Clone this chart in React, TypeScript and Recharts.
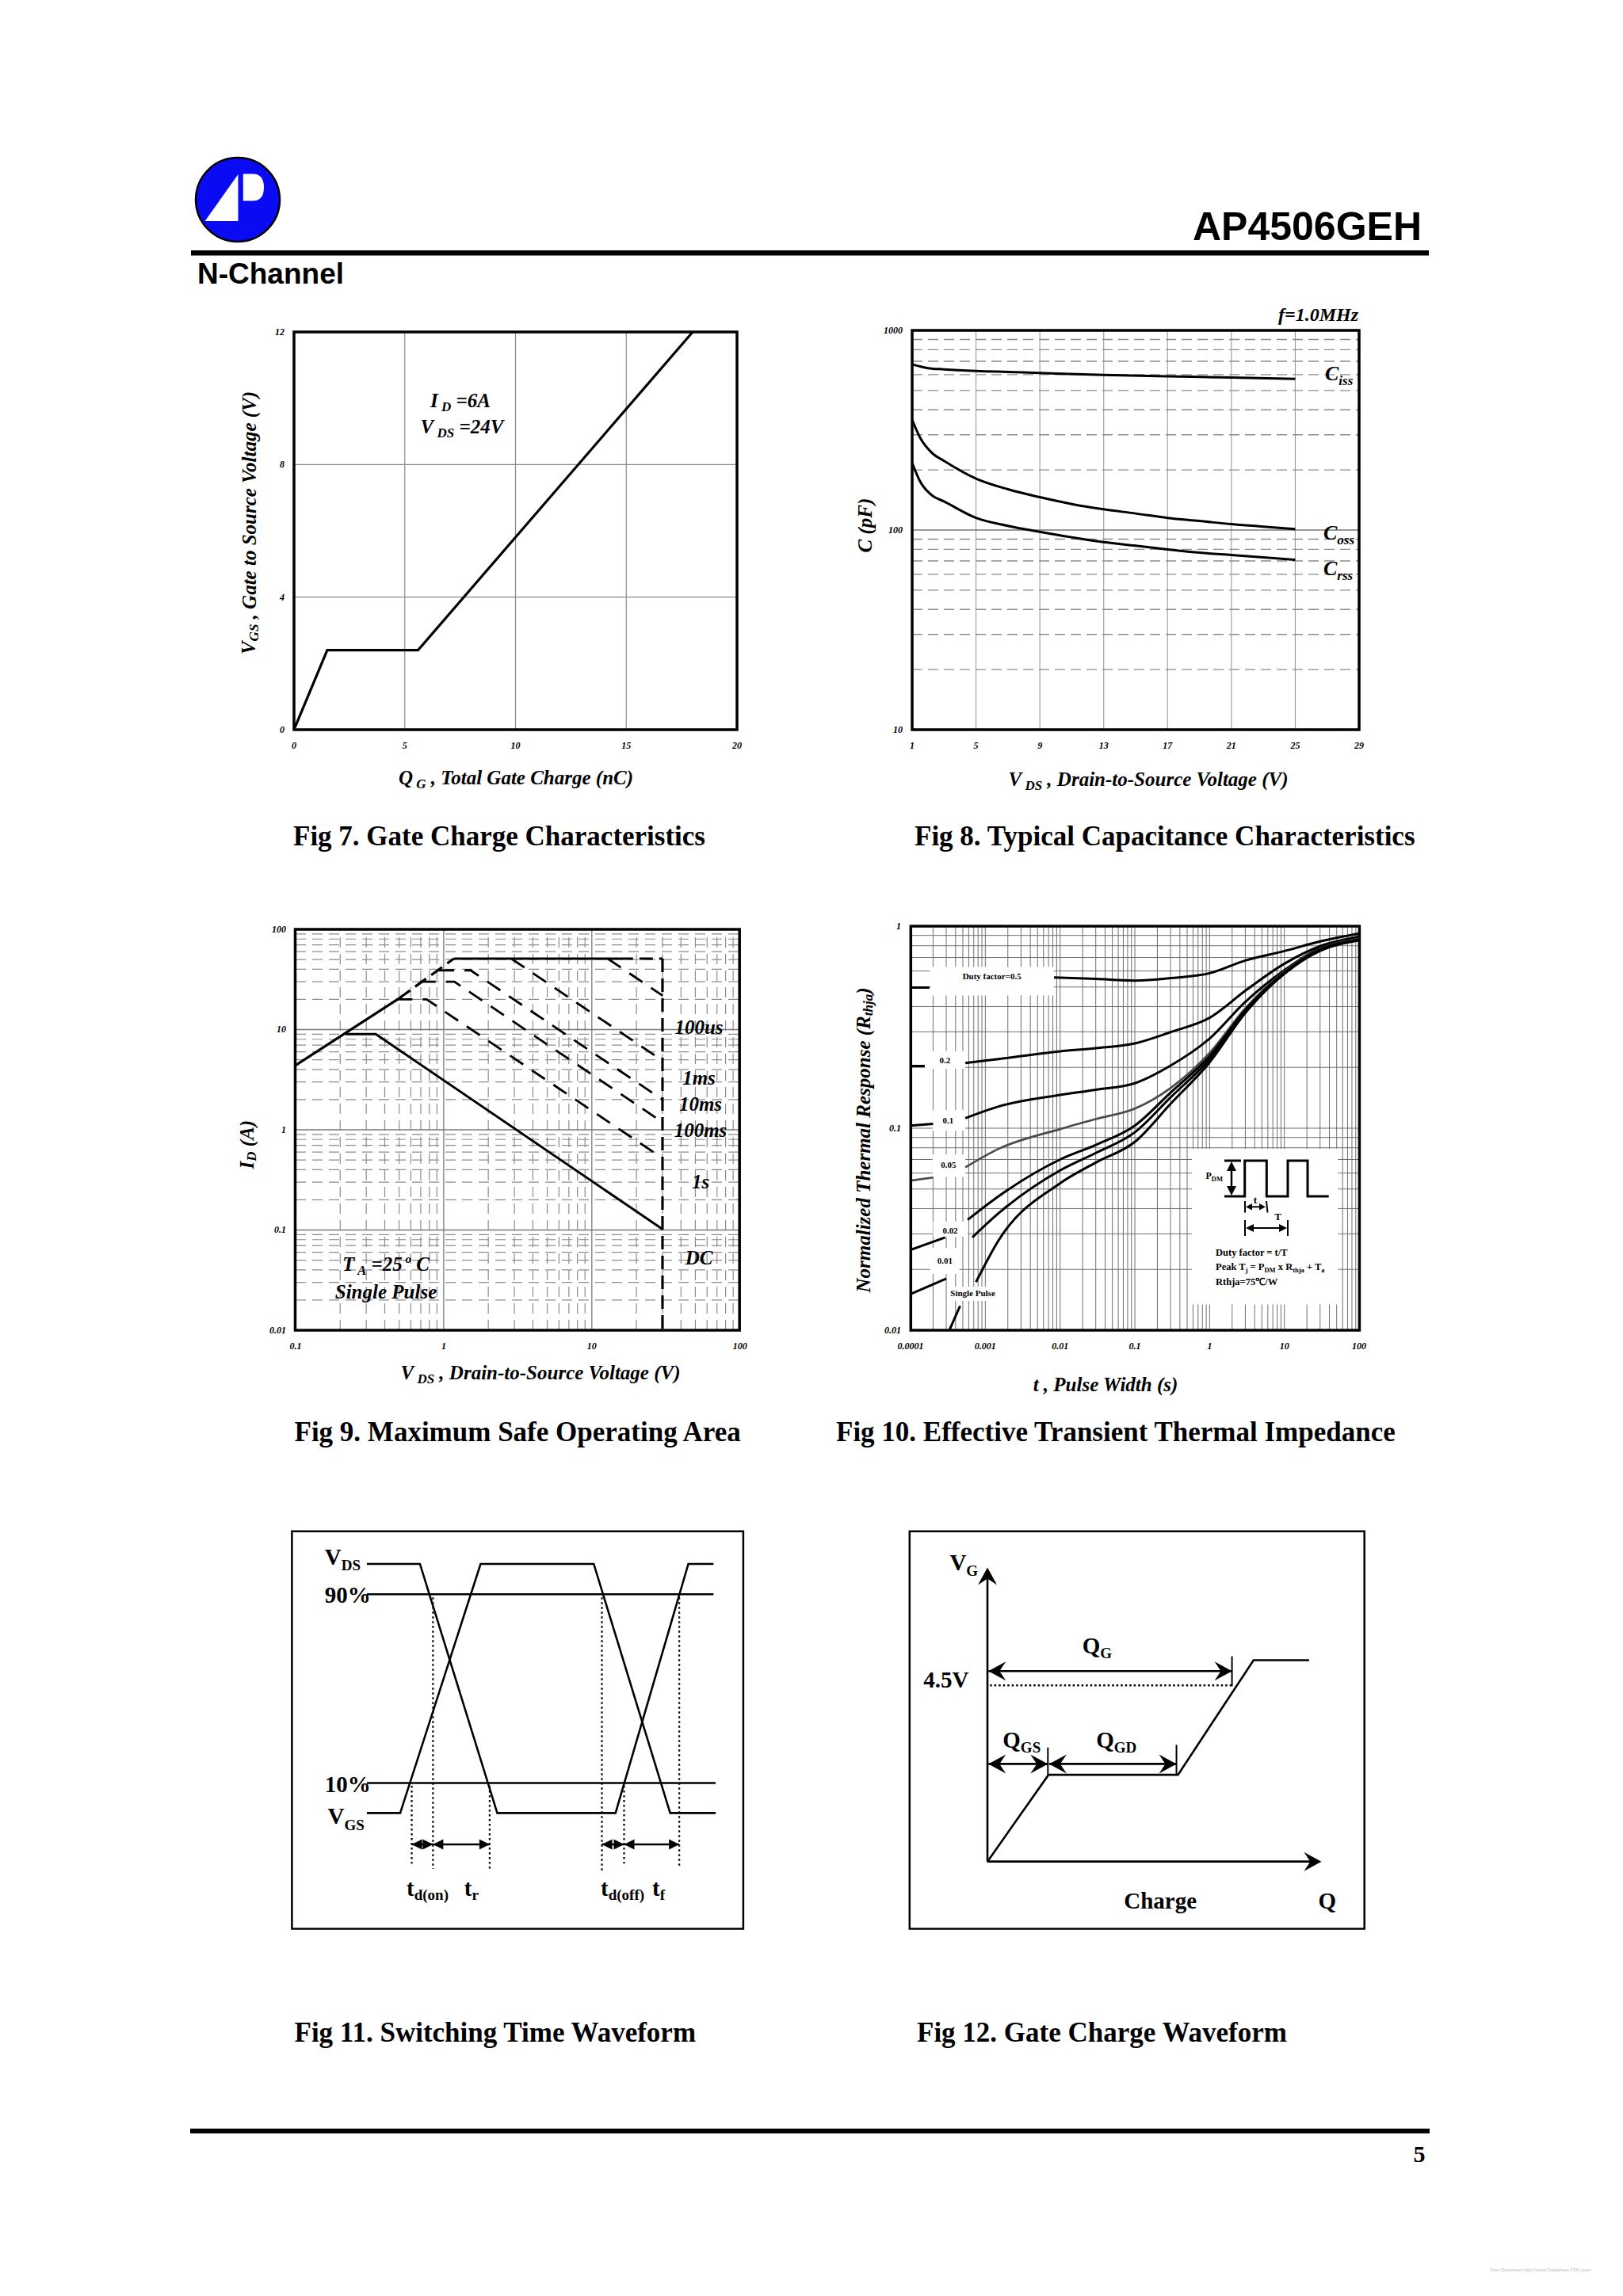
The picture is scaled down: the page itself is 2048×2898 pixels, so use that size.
import React from 'react';
import { LineChart, Line, XAxis, YAxis, CartesianGrid, ReferenceLine, ReferenceArea, ReferenceDot } from 'recharts';

const SERIF = "'Liberation Serif','Times New Roman',Times,serif";
const SANS = "'Liberation Sans',Arial,Helvetica,sans-serif";

// ---------- Fig 7 : gate charge ----------
const gcCharge = [0, 1.5, 5.6, 18];
const gcVgs = [0, 2.4, 2.4, 12];
const gcXTicks = [0, 5, 10, 15, 20];
const gcYTicks = [0, 4, 8, 12];
const gcGridX = [5, 10, 15];
const gcGridY = [4, 8];

// ---------- Fig 8 : capacitance ----------
const cissV = [1, 2, 3, 5, 7, 9, 13, 17, 21, 25];
const cissC = [675, 647, 638, 626, 619, 612, 598, 589, 580, 572];
const cossV = [1, 1.5, 2.25, 3, 5, 7, 9, 11, 13, 15, 17, 19, 21, 23, 25];
const cossC = [357, 290, 243, 222, 181, 160, 146, 135, 127, 121, 115, 111, 107, 104, 101];
const crssV = [1, 1.5, 2.25, 3, 5, 7, 9, 11, 13, 15, 17, 19, 21, 23, 25];
const crssC = [217, 175, 149, 139, 115, 105, 98, 92, 87, 83.5, 80, 77, 75, 73, 71];
const capXTicks = [1, 5, 9, 13, 17, 21, 25, 29];
const capYTicks = [10, 100, 1000];
const capGridX = [5, 9, 13, 17, 21, 25];
const capGridYDashed = [20, 30, 40, 50, 60, 70, 80, 90, 200, 300, 400, 500, 600, 700, 800, 900];
const capGridYSolid = [100];

// ---------- Fig 9 : SOA ----------
const soaRdsSolidV = [0.1, 0.5];
const soaRdsSolidI = [4.4, 20.5];
const soaRdsDashV = [0.5, 1.17];
const soaRdsDashI = [20.5, 51];
const soaTopSolidV = [1.17, 15.4];
const soaTopSolidI = [51, 51];
const soaTopDashV = [15.4, 30];
const soaTopDashI = [51, 51];
const soaVmaxV = [30, 30];
const soaVmaxI = [51, 0.01];
const soaDcV = [0.217, 0.348, 30];
const soaDcI = [9.0, 9.0, 0.102];
const soa1sV = [0.48, 0.767, 30];
const soa1sI = [20, 20, 0.52];
const soa100msV = [0.69, 1.18, 30];
const soa100msI = [30, 30, 1.19];
const soa10msV = [0.92, 1.52, 30];
const soa10msI = [39, 39, 2.0];
const soa1msV = [2.86, 30];
const soa1msI = [51, 4.9];
const soa100usV = [12.8, 30];
const soa100usI = [51, 21.8];
const soaXTicks = [0.1, 1, 10, 100];
const soaYTicks = [0.01, 0.1, 1, 10, 100];
const soaMinorX = [0.2, 0.3, 0.4, 0.5, 0.6, 0.7, 0.8, 0.9, 2, 3, 4, 5, 6, 7, 8, 9, 20, 30, 40, 50, 60, 70, 80, 90];
const soaMajorX = [1, 10];
const soaMinorY = [0.02, 0.03, 0.04, 0.05, 0.06, 0.07, 0.08, 0.09, 0.2, 0.3, 0.4, 0.5, 0.6, 0.7, 0.8, 0.9, 2, 3, 4, 5, 6, 7, 8, 9, 20, 30, 40, 50, 60, 70, 80, 90];
const soaMajorY = [0.1, 1, 10];

// ---------- Fig 10 : transient thermal impedance ----------
const d05T = [0.0001, 0.00018, 0.001, 0.0083, 0.03, 0.1, 0.3, 1, 3, 10, 30, 100];
const d05R = [0.497, 0.497, null, 0.557, 0.548, 0.538, 0.553, 0.585, 0.676, 0.753, 0.84, 0.92];
const d02T = [0.0001, 0.000155, 0.0003, 0.00054, 0.0015, 0.01, 0.03, 0.1, 0.3, 1, 3, 10, 30, 100];
const d02R = [0.203, 0.203, null, 0.21, 0.22, 0.24, 0.249, 0.263, 0.299, 0.352, 0.479, 0.652, 0.796, 0.887];
const d01T = [0.0001, 0.0002, 0.0003, 0.00054, 0.0015, 0.01, 0.03, 0.1, 0.3, 1, 3, 10, 30, 100];
const d01R = [0.103, 0.105, null, 0.112, 0.128, 0.146, 0.155, 0.167, 0.204, 0.278, 0.422, 0.606, 0.78, 0.871];
const d005T = [0.0001, 0.0002, 0.0003, 0.00054, 0.0015, 0.01, 0.03, 0.1, 0.3, 1, 3, 10, 30, 100];
const d005R = [0.055, 0.057, null, 0.064, 0.079, 0.099, 0.111, 0.125, 0.158, 0.236, 0.392, 0.596, 0.772, 0.865];
const d002T = [0.0001, 0.00029, 0.0004, 0.00058, 0.0015, 0.01, 0.03, 0.1, 0.3, 1, 3, 10, 30, 100];
const d002R = [0.025, 0.0288, null, 0.0352, 0.046, 0.07, 0.0826, 0.103, 0.15, 0.228, 0.385, 0.589, 0.765, 0.856];
const d001T = [0.0001, 0.0003, 0.0005, 0.00067, 0.0015, 0.01, 0.03, 0.1, 0.3, 1, 3, 10, 30, 100];
const d001R = [0.0151, 0.018, null, 0.0288, 0.0379, 0.0618, 0.0754, 0.0955, 0.142, 0.22, 0.378, 0.585, 0.76, 0.853];
const dSpT = [0.00033, 0.00046, 0.0006, 0.00075, 0.0015, 0.01, 0.03, 0.1, 0.3, 1, 3, 10, 30, 100];
const dSpR = [0.01, 0.0132, null, 0.0173, 0.0278, 0.0534, 0.0676, 0.0856, 0.132, 0.212, 0.372, 0.581, 0.755, 0.85];
const zthGridX = [
  0.0001, 0.0002, 0.0003, 0.0004, 0.0005, 0.0006, 0.0007, 0.0008, 0.0009,
  0.001, 0.002, 0.003, 0.004, 0.005, 0.006, 0.007, 0.008, 0.009,
  0.01, 0.02, 0.03, 0.04, 0.05, 0.06, 0.07, 0.08, 0.09,
  0.1, 0.2, 0.3, 0.4, 0.5, 0.6, 0.7, 0.8, 0.9,
  1, 2, 3, 4, 5, 6, 7, 8, 9,
  10, 20, 30, 40, 50, 60, 70, 80, 90, 100,
];
const zthGridY = [
  0.01, 0.02, 0.03, 0.04, 0.05, 0.06, 0.07, 0.08, 0.09,
  0.1, 0.2, 0.3, 0.4, 0.5, 0.6, 0.7, 0.8, 0.9, 1,
];
const zthBoxes = [
  { x1: 0.000182, x2: 0.00825, y1: 0.4535, y2: 0.6285 },
  { x1: 0.000155, x2: 0.00054, y1: 0.197, y2: 0.2405 },
  { x1: 0.0001965, x2: 0.00054, y1: 0.0971, y2: 0.123 },
  { x1: 0.0001965, x2: 0.00054, y1: 0.0574, y2: 0.074 },
  { x1: 0.0002, x2: 0.000585, y1: 0.029, y2: 0.0345 },
  { x1: 0.000182, x2: 0.00045, y1: 0.019, y2: 0.0255 },
  { x1: 0.000314, x2: 0.00144, y1: 0.01396, y2: 0.01643 },
  { x1: 0.58, x2: 52, y1: 0.0134, y2: 0.079 },
];
const zthLabels = [
  { t: 0.001225, r: 0.564, text: 'Duty factor=0.5' },
  { t: 0.0002877, r: 0.218, text: '0.2' },
  { t: 0.000317, r: 0.1095, text: '0.1' },
  { t: 0.000321, r: 0.0659, text: '0.05' },
  { t: 0.000339, r: 0.0312, text: '0.02' },
  { t: 0.0002877, r: 0.0221, text: '0.01' },
  { t: 0.00068, r: 0.01528, text: 'Single Pulse' },
];

// ---------- Fig 11 : switching waveform (schematic units 0-100) ----------
const swVdsX = [16.67, 28.43, 45.56, 71.77, 87.9, 93.48];
const swVdsY = [91.83, 91.83, 29.17, 29.17, 91.83, 91.83];
const swVgsX = [16.67, 24.06, 41.87, 66.94, 83.87, 93.95];
const swVgsY = [29.17, 29.17, 91.83, 91.83, 29.17, 29.17];
const swLevels = [
  { y: 84.21, x1: 16.67, x2: 93.48 },
  { y: 36.72, x1: 16.67, x2: 93.95 },
];
const swMarkers = [
  { x: 26.61, y1: 36.0, y2: 16.44 },
  { x: 31.32, y1: 83.39, y2: 15.07 },
  { x: 43.88, y1: 36.0, y2: 15.07 },
  { x: 68.75, y1: 83.39, y2: 14.76 },
  { x: 73.66, y1: 36.0, y2: 16.44 },
  { x: 85.89, y1: 83.39, y2: 15.72 },
];
const swArrows = [
  { x1: 26.61, x2: 31.32, y: 21.28 },
  { x1: 31.32, x2: 43.88, y: 21.28 },
  { x1: 68.75, x2: 73.66, y: 21.28 },
  { x1: 73.66, x2: 85.89, y: 21.28 },
];

// ---------- Fig 12 : gate charge waveform (schematic units 0-100) ----------
const gwWaveX = [17.08, 30.51, 58.98, 75.59, 87.8];
const gwWaveY = [16.95, 38.78, 38.78, 67.6, 67.6];
const gwAxisY = { x: 17.08, y1: 16.95, y2: 90.94 };
const gwAxisX = { y: 16.95, x1: 17.08, x2: 90.51 };
const gwDotted = { y: 61.29, x1: 17.63, x2: 70.85 };
const gwArrows = [
  { x1: 17.29, x2: 70.85, y: 64.86 },
  { x1: 17.29, x2: 30.37, y: 41.52 },
  { x1: 30.64, x2: 58.64, y: 41.52 },
];
const gwTicks = [
  { x: 70.85, y1: 61.08, y2: 68.63 },
  { x: 30.37, y1: 38.78, y2: 45.64 },
  { x: 58.64, y1: 38.78, y2: 46.33 },
];

const pts = (xs: number[], ys: (number | null)[]) => xs.map((x, i) => ({ x, y: ys[i] }));

type Rect = { L: number; T: number; W: number; H: number };
const R7: Rect = { L: 371, T: 419, W: 559, H: 502 };
const R8: Rect = { L: 1151, T: 417, W: 564, H: 504 };
const R9: Rect = { L: 372.5, T: 1173, W: 560.7, H: 506 };
const R10: Rect = { L: 1149.3, T: 1169, W: 566.1, H: 510 };
const R11: Rect = { L: 368.4, T: 1932.8, W: 569.5, H: 501.7 };
const R12: Rect = { L: 1147.8, T: 1932.8, W: 573.9, H: 501.7 };

const ML = 60, MR = 10, MT = 10, MB = 40;

const tickStyle: any = { fontFamily: SERIF, fontWeight: 700, fontStyle: 'italic', fontSize: 12, fill: '#000' };
const isDecade = (v: number) => Math.abs(Math.log10(v) - Math.round(Math.log10(v))) < 1e-6;
const fmtAll = (v: number) => String(v);
const fmtDecade = (v: number) => (isDecade(v) ? String(v) : '');

const mkXTick = (fmt: (v: number) => string) => (p: any) => (
  <text x={p.x} y={p.y + 20} textAnchor="middle" dominantBaseline="central" style={tickStyle}>{fmt(p.payload.value)}</text>
);
const mkYTick = (fmt: (v: number) => string) => (p: any) => (
  <text x={p.x - 12} y={p.y} textAnchor="end" dominantBaseline="central" style={tickStyle}>{fmt(p.payload.value)}</text>
);

const lineCommon: any = { dataKey: 'y', dot: false, activeDot: false, isAnimationActive: false, connectNulls: false, legendType: 'none' };
const axisCommon: any = { type: 'number', allowDataOverflow: true, axisLine: false, tickLine: false, tickSize: 0, tickMargin: 0, interval: 0 };

const boxPos = (r: Rect) => ({ position: 'absolute' as const, left: r.L - ML, top: r.T - MT });
const chartSize = (r: Rect) => ({ width: r.W + ML + MR, height: r.H + MT + MB, margin: { top: MT, right: MR, left: 0, bottom: 0 } });

const headSmall = (dir: 'l' | 'r') => (p: any) => {
  const L = 13, h = 6.5, s = dir === 'r' ? -1 : 1;
  return <path d={`M${p.cx},${p.cy} L${p.cx + s * L},${p.cy - h} L${p.cx + s * L},${p.cy + h} Z`} fill="#000" />;
};
const headBarb = (dir: 'l' | 'r' | 'u') => (p: any) => {
  const L = 22, h = 12, n = 14;
  const { cx, cy } = p;
  let d = '';
  if (dir === 'r') d = `M${cx},${cy} L${cx - L},${cy - h} L${cx - n},${cy} L${cx - L},${cy + h} Z`;
  if (dir === 'l') d = `M${cx},${cy} L${cx + L},${cy - h} L${cx + n},${cy} L${cx + L},${cy + h} Z`;
  if (dir === 'u') d = `M${cx},${cy} L${cx - h},${cy + L} L${cx},${cy + n} L${cx + h},${cy + L} Z`;
  return <path d={d} fill="#000" />;
};

const lab: any = { fontFamily: SERIF, fontWeight: 700, fontStyle: 'italic', fill: '#000' };
const bold: any = { fontFamily: SERIF, fontWeight: 700, fill: '#000' };

function Fig7() {
  return (
    <div style={boxPos(R7)}>
      <LineChart {...chartSize(R7)}>
        <XAxis {...axisCommon} dataKey="x" domain={[0, 20]} ticks={gcXTicks} height={MB} tick={mkXTick(fmtAll)} />
        <YAxis {...axisCommon} domain={[0, 12]} ticks={gcYTicks} width={ML} tick={mkYTick(fmtAll)} />
        {gcGridX.map((v) => <ReferenceLine key={'gx' + v} x={v} stroke="#8a8a8a" strokeWidth={1.2} />)}
        {gcGridY.map((v) => <ReferenceLine key={'gy' + v} y={v} stroke="#8a8a8a" strokeWidth={1.2} />)}
        <Line {...lineCommon} data={pts(gcCharge, gcVgs)} type="linear" stroke="#000" strokeWidth={3.2} />
      </LineChart>
    </div>
  );
}

function Fig8() {
  return (
    <div style={boxPos(R8)}>
      <LineChart {...chartSize(R8)}>
        <XAxis {...axisCommon} dataKey="x" domain={[1, 29]} ticks={capXTicks} height={MB} tick={mkXTick(fmtAll)} />
        <YAxis {...axisCommon} scale="log" domain={[10, 1000]} ticks={capYTicks} width={ML} tick={mkYTick(fmtAll)} />
        {capGridX.map((v) => <ReferenceLine key={'cx' + v} x={v} stroke="#9a9a9a" strokeWidth={1.1} />)}
        {capGridYDashed.map((v) => <ReferenceLine key={'cd' + v} y={v} stroke="#8c8c8c" strokeWidth={1.4} strokeDasharray="13 7" />)}
        {capGridYSolid.map((v) => <ReferenceLine key={'cs' + v} y={v} stroke="#777" strokeWidth={1.3} />)}
        <Line {...lineCommon} data={pts(cissV, cissC)} type="monotone" stroke="#000" strokeWidth={3} />
        <Line {...lineCommon} data={pts(cossV, cossC)} type="monotone" stroke="#000" strokeWidth={3} />
        <Line {...lineCommon} data={pts(crssV, crssC)} type="monotone" stroke="#000" strokeWidth={3} />
      </LineChart>
    </div>
  );
}

function Fig9() {
  const dashT = { stroke: '#000', strokeWidth: 2.8, strokeDasharray: '20 13', type: 'linear' as const };
  const dashB = { stroke: '#000', strokeWidth: 3.2, strokeDasharray: '17 8', type: 'linear' as const };
  return (
    <div style={boxPos(R9)}>
      <LineChart {...chartSize(R9)}>
        <XAxis {...axisCommon} dataKey="x" scale="log" domain={[0.1, 100]} ticks={soaXTicks} height={MB} tick={mkXTick(fmtAll)} />
        <YAxis {...axisCommon} scale="log" domain={[0.01, 100]} ticks={soaYTicks} width={ML} tick={mkYTick(fmtAll)} />
        {soaMinorX.map((v) => <ReferenceLine key={'mx' + v} x={v} stroke="#8c8c8c" strokeWidth={1.2} strokeDasharray="13 8" />)}
        {soaMinorY.map((v) => <ReferenceLine key={'my' + v} y={v} stroke="#8c8c8c" strokeWidth={1.2} strokeDasharray="13 8" />)}
        {soaMajorX.map((v) => <ReferenceLine key={'Mx' + v} x={v} stroke="#7a7a7a" strokeWidth={1.3} />)}
        {soaMajorY.map((v) => <ReferenceLine key={'My' + v} y={v} stroke="#7a7a7a" strokeWidth={1.3} />)}
        <Line {...lineCommon} data={pts(soaRdsSolidV, soaRdsSolidI)} type="linear" stroke="#000" strokeWidth={3.2} />
        <Line {...lineCommon} data={pts(soaRdsDashV, soaRdsDashI)} {...dashB} />
        <Line {...lineCommon} data={pts(soaTopSolidV, soaTopSolidI)} type="linear" stroke="#000" strokeWidth={3.2} />
        <Line {...lineCommon} data={pts(soaTopDashV, soaTopDashI)} {...dashB} />
        <Line {...lineCommon} data={pts(soaVmaxV, soaVmaxI)} {...dashB} />
        <Line {...lineCommon} data={pts(soaDcV, soaDcI)} type="linear" stroke="#000" strokeWidth={3} />
        <Line {...lineCommon} data={pts(soa1sV, soa1sI)} {...dashT} />
        <Line {...lineCommon} data={pts(soa100msV, soa100msI)} {...dashT} />
        <Line {...lineCommon} data={pts(soa10msV, soa10msI)} {...dashT} />
        <Line {...lineCommon} data={pts(soa1msV, soa1msI)} {...dashT} />
        <Line {...lineCommon} data={pts(soa100usV, soa100usI)} {...dashT} />
      </LineChart>
    </div>
  );
}

function Fig10() {
  return (
    <div style={boxPos(R10)}>
      <LineChart {...chartSize(R10)}>
        <CartesianGrid stroke="#6e6e6e" strokeWidth={1} />
        <XAxis {...axisCommon} dataKey="x" scale="log" domain={[0.0001, 100]} ticks={zthGridX} height={MB} tick={mkXTick(fmtDecade)} />
        <YAxis {...axisCommon} scale="log" domain={[0.01, 1]} ticks={zthGridY} width={ML} tick={mkYTick(fmtDecade)} />
        {zthBoxes.map((b, i) => (
          <ReferenceArea key={'b' + i} x1={b.x1} x2={b.x2} y1={b.y1} y2={b.y2} fill="#fff" fillOpacity={1} stroke="none" />
        ))}
        <Line {...lineCommon} data={pts(d05T, d05R)} type="monotone" stroke="#000" strokeWidth={3} />
        <Line {...lineCommon} data={pts(d02T, d02R)} type="monotone" stroke="#000" strokeWidth={3} />
        <Line {...lineCommon} data={pts(d01T, d01R)} type="monotone" stroke="#000" strokeWidth={3} />
        <Line {...lineCommon} data={pts(d005T, d005R)} type="monotone" stroke="#4a4a4a" strokeWidth={2.7} />
        <Line {...lineCommon} data={pts(d002T, d002R)} type="monotone" stroke="#000" strokeWidth={3} />
        <Line {...lineCommon} data={pts(d001T, d001R)} type="monotone" stroke="#000" strokeWidth={3} />
        <Line {...lineCommon} data={pts(dSpT, dSpR)} type="monotone" stroke="#000" strokeWidth={3} />
        {zthLabels.map((l, i) => (
          <ReferenceDot key={'l' + i} x={l.t} y={l.r} r={0}
            shape={(p: any) => (
              <text x={p.cx} y={p.cy} textAnchor="middle" dominantBaseline="central" fontFamily={SERIF} fontWeight={700} fontSize={11} fill="#000">{l.text}</text>
            )} />
        ))}
      </LineChart>
    </div>
  );
}

function Fig11() {
  const s = { stroke: '#000', strokeWidth: 2.6, type: 'linear' as const };
  return (
    <div style={{ position: 'absolute', left: R11.L, top: R11.T }}>
      <LineChart width={R11.W} height={R11.H} margin={{ top: 0, right: 0, left: 0, bottom: 0 }}>
        <XAxis type="number" dataKey="x" domain={[0, 100]} hide allowDataOverflow />
        <YAxis type="number" domain={[0, 100]} hide allowDataOverflow />
        <Line {...lineCommon} {...s} data={pts(swVdsX, swVdsY)} />
        <Line {...lineCommon} {...s} data={pts(swVgsX, swVgsY)} />
        {swLevels.map((l, i) => <Line key={'lv' + i} {...lineCommon} {...s} data={[{ x: l.x1, y: l.y }, { x: l.x2, y: l.y }]} />)}
        {swMarkers.map((m, i) => (
          <Line key={'mk' + i} {...lineCommon} stroke="#000" strokeWidth={2.2} strokeDasharray="2.5 3.5" type="linear" data={[{ x: m.x, y: m.y1 }, { x: m.x, y: m.y2 }]} />
        ))}
        {swArrows.map((a, i) => <Line key={'ar' + i} {...lineCommon} {...s} data={[{ x: a.x1, y: a.y }, { x: a.x2, y: a.y }]} />)}
        {swArrows.map((a, i) => <ReferenceDot key={'hl' + i} x={a.x1} y={a.y} r={0} shape={headSmall('l')} />)}
        {swArrows.map((a, i) => <ReferenceDot key={'hr' + i} x={a.x2} y={a.y} r={0} shape={headSmall('r')} />)}
      </LineChart>
    </div>
  );
}

function Fig12() {
  const s = { stroke: '#000', strokeWidth: 2.6, type: 'linear' as const };
  return (
    <div style={{ position: 'absolute', left: R12.L, top: R12.T }}>
      <LineChart width={R12.W} height={R12.H} margin={{ top: 0, right: 0, left: 0, bottom: 0 }}>
        <XAxis type="number" dataKey="x" domain={[0, 100]} hide allowDataOverflow />
        <YAxis type="number" domain={[0, 100]} hide allowDataOverflow />
        <Line {...lineCommon} {...s} data={[{ x: gwAxisY.x, y: gwAxisY.y1 }, { x: gwAxisY.x, y: gwAxisY.y2 - 2 }]} />
        <Line {...lineCommon} {...s} data={[{ x: gwAxisX.x1, y: gwAxisX.y }, { x: gwAxisX.x2 - 2, y: gwAxisX.y }]} />
        <Line {...lineCommon} {...s} data={pts(gwWaveX, gwWaveY)} />
        <Line {...lineCommon} stroke="#000" strokeWidth={2.6} strokeDasharray="2.5 3" type="linear"
          data={[{ x: gwDotted.x1, y: gwDotted.y }, { x: gwDotted.x2, y: gwDotted.y }]} />
        {gwArrows.map((a, i) => <Line key={'ga' + i} {...lineCommon} {...s} data={[{ x: a.x1, y: a.y }, { x: a.x2, y: a.y }]} />)}
        {gwTicks.map((t, i) => <Line key={'gt' + i} {...lineCommon} stroke="#000" strokeWidth={2} type="linear" data={[{ x: t.x, y: t.y1 }, { x: t.x, y: t.y2 }]} />)}
        {gwArrows.map((a, i) => <ReferenceDot key={'gl' + i} x={a.x1} y={a.y} r={0} shape={headBarb('l')} />)}
        {gwArrows.map((a, i) => <ReferenceDot key={'gr' + i} x={a.x2} y={a.y} r={0} shape={headBarb('r')} />)}
        <ReferenceDot x={gwAxisY.x} y={gwAxisY.y2} r={0} shape={headBarb('u')} />
        <ReferenceDot x={gwAxisX.x2} y={gwAxisX.y} r={0} shape={headBarb('r')} />
      </LineChart>
    </div>
  );
}

function Overlay() {
  const frame = (r: Rect, w: number) => <rect x={r.L} y={r.T} width={r.W} height={r.H} fill="none" stroke="#000" strokeWidth={w} />;
  const sw = { ...bold, fontSize: 29 };
  return (
    <svg width={2048} height={2898} style={{ position: 'absolute', left: 0, top: 0, pointerEvents: 'none' }}>
      {/* header */}
      <circle cx={300} cy={252} r={53} fill="#0b0bf3" stroke="#000" strokeWidth={2.5} />
      <polygon points="258.7,279 300.5,279 300.5,220" fill="#fff" />
      <path d="M306.8,219.5 L319,219.5 Q333,219.5 333,236.5 Q333,253.5 319,253.5 L306.8,253.5 Z" fill="#fff" />
      <text x={1794} y={303} textAnchor="end" fontFamily={SANS} fontWeight={700} fontSize={50} fill="#000">AP4506GEH</text>
      <rect x={241} y={316} width={1562} height={6.5} fill="#000" />
      <text x={249} y={358} fontFamily={SANS} fontWeight={700} fontSize={37} fill="#000">N-Channel</text>

      {/* frames */}
      {frame(R7, 3.5)}
      {frame(R8, 3.5)}
      {frame(R9, 3.5)}
      {frame(R10, 3.5)}
      {frame(R11, 2.5)}
      {frame(R12, 2.5)}

      {/* Fig 7 texts */}
      <text transform="translate(313.5,660) rotate(-90)" textAnchor="middle" dominantBaseline="central" fontSize={25} style={lab}>
        V<tspan fontSize={17} dy={6}>GS</tspan><tspan dy={-6}> , Gate to Source Voltage (V)</tspan>
      </text>
      <text x={651} y={990} textAnchor="middle" fontSize={25} style={lab}>
        Q<tspan fontSize={17} dy={5}> G</tspan><tspan dy={-5}> , Total Gate Charge (nC)</tspan>
      </text>
      <text x={581} y={514} textAnchor="middle" fontSize={25} style={lab}>
        I<tspan fontSize={17} dy={5}> D</tspan><tspan dy={-5}> =6A</tspan>
      </text>
      <text x={583} y={547} textAnchor="middle" fontSize={25} style={lab}>
        V<tspan fontSize={17} dy={5}> DS</tspan><tspan dy={-5}> =24V</tspan>
      </text>

      {/* Fig 8 texts */}
      <text x={1714} y={405} textAnchor="end" fontSize={24} style={lab}>f=1.0MHz</text>
      <text x={1672} y={480} fontSize={26} style={lab}>C<tspan fontSize={17} dy={6}>iss</tspan></text>
      <text x={1670} y={681} fontSize={26} style={lab}>C<tspan fontSize={17} dy={6}>oss</tspan></text>
      <text x={1670} y={726} fontSize={26} style={lab}>C<tspan fontSize={17} dy={6}>rss</tspan></text>
      <text transform="translate(1091.5,663) rotate(-90)" textAnchor="middle" dominantBaseline="central" fontSize={25} style={lab}>C (pF)</text>
      <text x={1449} y={992} textAnchor="middle" fontSize={25} style={lab}>
        V<tspan fontSize={17} dy={5}> DS</tspan><tspan dy={-5}> , Drain-to-Source Voltage (V)</tspan>
      </text>

      {/* Fig 9 texts */}
      <text x={882} y={1296} textAnchor="middle" dominantBaseline="central" fontSize={25} style={lab}>100us</text>
      <text x={882} y={1360} textAnchor="middle" dominantBaseline="central" fontSize={25} style={lab}>1ms</text>
      <text x={884} y={1393} textAnchor="middle" dominantBaseline="central" fontSize={25} style={lab}>10ms</text>
      <text x={884} y={1426} textAnchor="middle" dominantBaseline="central" fontSize={25} style={lab}>100ms</text>
      <text x={884} y={1491} textAnchor="middle" dominantBaseline="central" fontSize={25} style={lab}>1s</text>
      <text x={882} y={1587} textAnchor="middle" dominantBaseline="central" fontSize={25} style={lab}>DC</text>
      <text x={487} y={1604} textAnchor="middle" fontSize={25} style={lab}>
        T<tspan fontSize={17} dy={5}> A</tspan><tspan dy={-5}> =25</tspan><tspan fontSize={15} dy={-10}> o</tspan><tspan dy={10}> C</tspan>
      </text>
      <text x={487} y={1639} textAnchor="middle" fontSize={25} style={lab}>Single  Pulse</text>
      <text transform="translate(311.4,1444.6) rotate(-90)" textAnchor="middle" dominantBaseline="central" fontSize={25} style={lab}>
        I<tspan fontSize={17} dy={6}>D</tspan><tspan dy={-6}> (A)</tspan>
      </text>
      <text x={682} y={1741} textAnchor="middle" fontSize={25} style={lab}>
        V<tspan fontSize={17} dy={5}> DS</tspan><tspan dy={-5}> , Drain-to-Source Voltage (V)</tspan>
      </text>

      {/* Fig 10 texts */}
      <text transform="translate(1089,1439) rotate(-90)" textAnchor="middle" dominantBaseline="central" fontSize={25} style={lab}>
        Normalized Thermal Response (R<tspan fontSize={17} dy={6}>thja</tspan><tspan dy={-6}>)</tspan>
      </text>
      <text x={1395} y={1756} textAnchor="middle" fontSize={25} style={lab}>t , Pulse Width (s)</text>
      {/* inset diagram */}
      <g stroke="#000" fill="none" strokeWidth={3}>
        <polyline points="1545,1510 1570.7,1510 1570.7,1465 1598.3,1465 1598.3,1510 1625,1510 1625,1465 1650,1465 1650,1510 1676.7,1510" />
        <line x1={1545} y1={1465} x2={1566} y2={1465} />
        <line x1={1554} y1={1474} x2={1554} y2={1501} strokeWidth={2.5} />
        <line x1={1575} y1={1523.3} x2={1594} y2={1523.3} strokeWidth={2} />
        <line x1={1575} y1={1550} x2={1621} y2={1550} strokeWidth={2} />
        <line x1={1571} y1={1516} x2={1571} y2={1530.5} strokeWidth={2} />
        <line x1={1598} y1={1516} x2={1599.5} y2={1530.5} strokeWidth={2} />
        <line x1={1571} y1={1540} x2={1571} y2={1560} strokeWidth={2} />
        <line x1={1625} y1={1540} x2={1625} y2={1560} strokeWidth={2} />
      </g>
      <path d="M1554,1466 L1548,1478 L1560,1478 Z" fill="#000" />
      <path d="M1554,1509 L1548,1497 L1560,1497 Z" fill="#000" />
      <path d="M1572,1523.3 L1580,1519 L1580,1527.6 Z" fill="#000" />
      <path d="M1597,1523.3 L1589,1519 L1589,1527.6 Z" fill="#000" />
      <path d="M1572,1550 L1582,1545 L1582,1555 Z" fill="#000" />
      <path d="M1624,1550 L1614,1545 L1614,1555 Z" fill="#000" />
      <text x={1521.5} y={1488} fontSize={12} style={bold}>P<tspan fontSize={8.5} dy={3}>DM</tspan></text>
      <text x={1584} y={1519} textAnchor="middle" fontSize={13} style={bold}>t</text>
      <text x={1612.7} y={1540} textAnchor="middle" fontSize={13} style={bold}>T</text>
      <text x={1534} y={1585} fontSize={12.5} style={bold}>Duty factor = t/T</text>
      <text x={1534} y={1603.3} fontSize={12.5} style={bold}>
        Peak T<tspan fontSize={8.5} dy={3}>j</tspan><tspan dy={-3}> = P</tspan><tspan fontSize={8.5} dy={3}>DM</tspan><tspan dy={-3}> x R</tspan><tspan fontSize={8.5} dy={3}>thja</tspan><tspan dy={-3}> + T</tspan><tspan fontSize={8.5} dy={3}>a</tspan>
      </text>
      <text x={1534} y={1621.7} fontSize={12.5} style={bold}>Rthja=75℃/W</text>

      {/* Fig 11 texts */}
      <text x={409.8} y={1974.8} style={sw}>V<tspan fontSize={19} dy={7}>DS</tspan></text>
      <text x={409.8} y={2023} style={sw}>90%</text>
      <text x={409.8} y={2262.3} style={sw}>10%</text>
      <text x={413.6} y={2301.9} style={sw}>V<tspan fontSize={19} dy={8}>GS</tspan></text>
      <text x={513} y={2393} style={sw}>t<tspan fontSize={19} dy={5}>d(on)</tspan></text>
      <text x={585.8} y={2393} style={sw}>t<tspan fontSize={19} dy={5}>r</tspan></text>
      <text x={758} y={2393} style={sw}>t<tspan fontSize={19} dy={5}>d(off)</tspan></text>
      <text x={823} y={2393} style={sw}>t<tspan fontSize={19} dy={5}>f</tspan></text>

      {/* Fig 12 texts */}
      <text x={1198.4} y={1981.7} style={sw}>V<tspan fontSize={19} dy={7}>G</tspan></text>
      <text x={1365.7} y={2086.7} style={sw}>Q<tspan fontSize={19} dy={6}>G</tspan></text>
      <text x={1165.3} y={2129.7} style={sw}>4.5V</text>
      <text x={1265.3} y={2205.5} style={sw}>Q<tspan fontSize={19} dy={6}>GS</tspan></text>
      <text x={1383.2} y={2205.5} style={sw}>Q<tspan fontSize={19} dy={6}>GD</tspan></text>
      <text x={1418.2} y={2408.6} style={sw}>Charge</text>
      <text x={1663.4} y={2408.6} style={sw}>Q</text>

      {/* captions */}
      <text x={370} y={1067} fontSize={35} style={bold}>Fig 7. Gate Charge Characteristics</text>
      <text x={1154} y={1067} fontSize={35} style={bold}>Fig 8. Typical Capacitance Characteristics</text>
      <text x={371.5} y={1819} fontSize={35} style={bold}>Fig 9. Maximum Safe Operating Area</text>
      <text x={1055} y={1819} fontSize={35} style={bold}>Fig 10. Effective Transient Thermal Impedance</text>
      <text x={371.5} y={2577} fontSize={35} style={bold}>Fig 11. Switching Time Waveform</text>
      <text x={1157} y={2577} fontSize={35} style={bold}>Fig 12. Gate Charge Waveform</text>

      {/* footer */}
      <rect x={240} y={2686.7} width={1564} height={6} fill="#000" />
      <text x={1798.6} y={2729} textAnchor="end" fontSize={30} style={bold}>5</text>
      <text x={1880} y={2867} fontFamily={SANS} fontSize={6} fill="#bdbdbd">Free Datasheet http://www.Datasheet-PDF.com/</text>
    </svg>
  );
}

export default function App() {
  return (
    <div style={{ position: 'absolute', left: 0, top: 0, width: 2048, height: 2898, background: '#fff', overflow: 'hidden' }}>
      <Fig7 />
      <Fig8 />
      <Fig9 />
      <Fig10 />
      <Fig11 />
      <Fig12 />
      <Overlay />
    </div>
  );
}
